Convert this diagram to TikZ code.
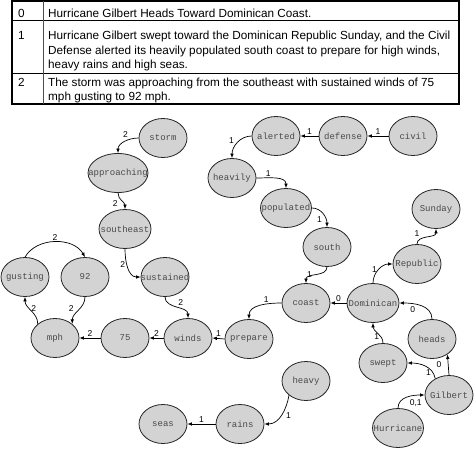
\documentclass[tikz,border=0pt]{standalone}
\usepackage{fontspec}
\setmainfont{Liberation Sans}
\newfontfamily\wordfont{Liberation Mono}
\usetikzlibrary{shapes.geometric,arrows.meta}
\definecolor{nodefill}{HTML}{D3D3D3}
\definecolor{wordink}{HTML}{4A4A4A}

\begin{document}
\begin{tikzpicture}[x=1pt, y=-1pt, >={Latex[length=4.5pt,width=3.6pt]},
    word/.style={ellipse, draw=black!85, line width=0.8pt, fill=nodefill, minimum width=48pt, minimum height=39pt, inner sep=0pt,
      label={[wordink, font=\wordfont\fontsize{9}{10}\selectfont]center:#1}},
    link/.style={->, line width=0.7pt},
    lbl/.style={font=\fontsize{8.5}{9}\selectfont, inner sep=1.5pt},
    rowtext/.style={anchor=base west, inner sep=0pt, font=\fontsize{11.75}{14.5}\selectfont}]
  \useasboundingbox (0,0) rectangle (474,448);

  \draw[line width=1.6pt] (12,1) rectangle (459,104);
  \draw[line width=0.8pt] (12,20.5) -- (459,20.5) (12,73) -- (459,73);
  \draw[line width=1pt, black!70] (43,1) -- (43,104);
  \node[rowtext] (k0) at (18,17.5) {0};
  \node[rowtext] (k1) at (18,39.5) {1};
  \node[rowtext] (k2) at (18,86.5) {2};
  \node[rowtext] (s0) at (48,17.5) {Hurricane Gilbert Heads Toward Dominican Coast.};
  \node[rowtext] (s1a) at (48,39.5) {Hurricane Gilbert swept toward the Dominican Republic Sunday, and the Civil};
  \node[rowtext] (s1b) at (48,54) {Defense alerted its heavily populated south coast to prepare for high winds,};
  \node[rowtext] (s1c) at (48,68.5) {heavy rains and high seas.};
  \node[rowtext] (s2a) at (48,86.5) {The storm was approaching from the southeast with sustained winds of 75};
  \node[rowtext] (s2b) at (48,100.5) {mph gusting to 92 mph.};

  \node[word=storm] (storm) at (163,138) {};
  \node[word=approaching, minimum width=60pt] (approaching) at (118,173) {};
  \node[word=southeast, minimum width=52pt] (southeast) at (125,229) {};
  \node[word=gusting] (gusting) at (25,277) {};
  \node[word=92] (n92) at (85,277) {};
  \node[word=sustained] (sustained) at (165,277) {};
  \node[word=mph] (mph) at (55,338) {};
  \node[word=75] (n75) at (125,338) {};
  \node[word=winds] (winds) at (188,338) {};
  \node[word=seas] (seas) at (163,424) {};
  \node[word=alerted] (alerted) at (276,136) {};
  \node[word=defense] (defense) at (343,136) {};
  \node[word=civil] (civil) at (413,136) {};
  \node[word=heavily] (heavily) at (232,178) {};
  \node[word=populated, minimum width=51pt] (populated) at (286,208) {};
  \node[word=south] (south) at (327,247) {};
  \node[word=Sunday] (sunday) at (436,209) {};
  \node[word=Republic] (republic) at (417,264) {};
  \node[word=coast] (coast) at (306,303) {};
  \node[word=Dominican, minimum width=52pt] (dominican) at (373,303) {};
  \node[word=prepare] (prepare) at (249,339) {};
  \node[word=heads] (heads) at (432,339) {};
  \node[word=swept] (swept) at (383,363) {};
  \node[word=heavy] (heavy) at (306,381) {};
  \node[word=Gilbert] (gilbert) at (449,395) {};
  \node[word=rains] (rains) at (240,424) {};
  \node[word=Hurricane, minimum width=51pt] (hurricane) at (398,428) {};

  \draw[link] (storm.west) to[out=180,in=90] node[lbl, pos=0.3, above left] {2} (approaching.north);
  \draw[link] (approaching.south) to[out=-90,in=90] node[lbl, pos=0.7, left=4pt] {2} (southeast.north);
  \draw[link] (southeast.south) to[out=-90,in=180] node[lbl, pos=0.4, left] {2} (sustained.west);
  \draw[link] (sustained.south) to[out=-90,in=90] node[lbl, pos=0.5, above right] {2} (winds.north);
  \draw[link] (winds.west) -- node[lbl, above] {2} (n75.east);
  \draw[link] (n75.west) -- node[lbl, above] {2} (mph.east);
  \draw[link] (n92.south) to[out=-90,in=90] node[lbl, pos=0.4, left=5pt] {2} (mph.north east);
  \draw[link] (mph.north west) to[out=90,in=-90] node[lbl, pos=0.6, right] {2} (gusting.south);
  \draw[link] (gusting.north) to[out=60,in=120] node[lbl, above] {2} (n92.north);
  \draw[link] (prepare.west) -- node[lbl, above] {1} (winds.east);
  \draw[link] (coast.west) to[out=180,in=90] node[lbl, pos=0.35, above] {1} (prepare.north);
  \draw[link] (south.south) to[out=-90,in=90] node[lbl, pos=0.4, left=6pt] {1} (coast.north);
  \draw[link] (populated.east) to[out=0,in=90] node[lbl, pos=0.55, below left] {1} (south.north);
  \draw[link] (heavily.east) to[out=0,in=90] node[lbl, pos=0.3, above] {1} (populated.north);
  \draw[link] (alerted.west) to[out=180,in=90] node[lbl, pos=0.6, above left] {1} (heavily.north);
  \draw[link] (defense.west) -- node[lbl, above] {1} (alerted.east);
  \draw[link] (civil.west) -- node[lbl, above] {1} (defense.east);
  \draw[link] (dominican.west) -- node[lbl, above] {0} (coast.east);
  \draw[link] (dominican.north) to[out=90,in=180] node[lbl, pos=0.5, left] {1} (republic.west);
  \draw[link] (republic.north) to[out=90,in=-90] node[lbl, pos=0.3, above left] {1} (sunday.south);
  \draw[link] (heads.north) to[out=90,in=0] node[lbl, pos=0.6, below left] {0} (dominican.east);
  \draw[link] (swept.north) to[out=90,in=-90] node[lbl, pos=0.3, left] {1} (dominican.south);
  \draw[link] (gilbert.130) to[out=100,in=0] node[lbl, pos=0.2, left] {1} (swept.east);
  \draw[link] (gilbert.north) -- node[lbl, left=5pt] {0} (heads.-45);
  \draw[link] (hurricane.north) to[out=90,in=180] node[lbl, pos=0.5, below right=1pt] {0,1} (gilbert.west);
  \draw[link] (heavy.-140) to[out=-100,in=0] node[lbl, pos=0.5, right=3pt] {1} (rains.east);
  \draw[link] (rains.west) -- node[lbl, above] {1} (seas.east);
\end{tikzpicture}
\end{document}
